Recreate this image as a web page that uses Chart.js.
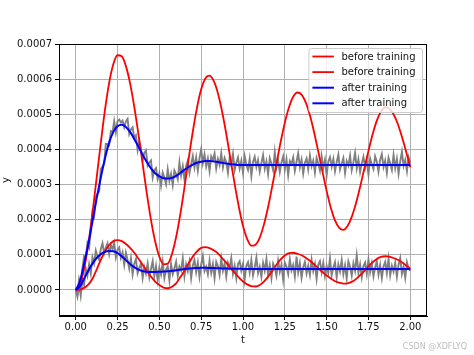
<!DOCTYPE html>
<html><head><meta charset="utf-8">
<script src="https://cdn.jsdelivr.net/npm/chart.js@4/dist/chart.umd.min.js"></script>
<style>
html,body{margin:0;padding:0;background:#fff;}
#wrap{position:relative;width:474px;height:355px;}
#wm{position:absolute;right:7px;bottom:4px;font:8px "DejaVu Sans",sans-serif;color:#bdbdbd;white-space:nowrap;}
</style></head><body>
<div id="wrap"><canvas id="c" width="474" height="355"></canvas><div id="wm">CSDN @XDFLYQ</div></div>
<script>
// ---- data (y values in units of 1e-4) ----
const X_TICKS = [0, 0.25, 0.5, 0.75, 1, 1.25, 1.5, 1.75, 2];
const Y_TICKS = [0, 1, 2, 3, 4, 5, 6, 7];
const LABELS = ['before training', 'before training', 'after training', 'after training'];

const T_CURVE = [0,0.025,0.05,0.075,0.1,0.125,0.15,0.175,0.2,0.225,
0.25,0.275,0.3,0.325,0.35,0.375,0.4,0.425,0.45,0.475,
0.5,0.525,0.55,0.575,0.6,0.625,0.65,0.675,0.7,0.725,
0.75,0.775,0.8,0.825,0.85,0.875,0.9,0.925,0.95,0.975,
1,1.025,1.05,1.075,1.1,1.125,1.15,1.175,1.2,1.225,
1.25,1.275,1.3,1.325,1.35,1.375,1.4,1.425,1.45,1.475,
1.5,1.525,1.55,1.575,1.6,1.625,1.65,1.675,1.7,1.725,
1.75,1.775,1.8,1.825,1.85,1.875,1.9,1.925,1.95,1.975,2];

const RED_UPPER = [0,0.15,0.60,1.30,2.19,3.19,4.19,5.13,5.90,6.43,
6.68,6.65,6.37,5.88,5.21,4.43,3.59,2.75,1.99,1.38,
0.95,0.73,0.75,1.02,1.50,2.15,2.92,3.73,4.51,5.19,
5.71,6.02,6.10,5.95,5.60,5.08,4.44,3.73,3.02,2.37,
1.82,1.45,1.26,1.29,1.49,1.86,2.36,2.96,3.59,4.21,
4.76,5.20,5.50,5.62,5.56,5.34,4.97,4.49,3.94,3.37,
2.82,2.34,1.98,1.77,1.71,1.82,2.08,2.46,2.93,3.45,
3.96,4.43,4.82,5.08,5.20,5.16,5.00,4.73,4.36,3.94,3.49];

const RED_LOWER = [0,0.01,0.06,0.15,0.32,0.58,0.86,1.10,1.28,1.39,
1.42,1.39,1.31,1.20,1.06,0.89,0.72,0.54,0.38,0.24,
0.14,0.07,0.05,0.09,0.19,0.36,0.55,0.76,0.95,1.10,
1.20,1.22,1.19,1.13,1.04,0.91,0.78,0.63,0.49,0.36,
0.24,0.16,0.11,0.10,0.14,0.24,0.38,0.55,0.72,0.87,
0.98,1.05,1.06,1.03,0.99,0.92,0.83,0.73,0.62,0.51,
0.41,0.33,0.25,0.21,0.18,0.19,0.23,0.31,0.42,0.54,
0.67,0.79,0.88,0.94,0.96,0.95,0.91,0.86,0.79,0.70,0.60];

const BLUE_UPPER = [0,0.25,0.75,1.30,1.95,2.60,3.20,3.75,4.20,4.50,
4.66,4.70,4.64,4.50,4.30,4.08,3.85,3.64,3.46,3.32,
3.23,3.18,3.17,3.19,3.25,3.33,3.42,3.50,3.57,3.62,
3.65,3.67,3.67,3.66,3.64,3.62,3.60,3.58,3.57,3.56,
3.56,3.56,3.56,3.56,3.56,3.56,3.56,3.56,3.56,3.56,
3.56,3.56,3.56,3.56,3.56,3.56,3.56,3.56,3.56,3.56,
3.56,3.56,3.56,3.56,3.56,3.56,3.56,3.56,3.56,3.56,
3.56,3.56,3.56,3.56,3.56,3.56,3.56,3.56,3.56,3.56,3.56];

const BLUE_LOWER = [0,0.10,0.32,0.55,0.75,0.91,1.02,1.09,1.11,1.10,
1.05,0.96,0.85,0.74,0.65,0.58,0.54,0.52,0.515,0.515,
0.52,0.525,0.53,0.545,0.56,0.58,0.595,0.61,0.62,0.625,
0.63,0.63,0.628,0.625,0.62,0.615,0.61,0.607,0.605,0.603,
0.60,0.60,0.60,0.60,0.60,0.60,0.60,0.60,0.60,0.60,
0.60,0.60,0.60,0.60,0.60,0.60,0.60,0.60,0.60,0.60,
0.60,0.60,0.60,0.60,0.60,0.60,0.60,0.60,0.60,0.60,
0.60,0.60,0.60,0.60,0.60,0.60,0.60,0.60,0.60,0.60,0.60];

const T_NOISE = [0,0.01,0.02,0.03,0.04,0.05,0.06,0.07,0.08,0.09,
0.1,0.11,0.12,0.13,0.14,0.15,0.16,0.17,0.18,0.19,
0.2,0.21,0.22,0.23,0.24,0.25,0.26,0.27,0.28,0.29,
0.3,0.31,0.32,0.33,0.34,0.35,0.36,0.37,0.38,0.39,
0.4,0.41,0.42,0.43,0.44,0.45,0.46,0.47,0.48,0.49,
0.5,0.51,0.52,0.53,0.54,0.55,0.56,0.57,0.58,0.59,
0.6,0.61,0.62,0.63,0.64,0.65,0.66,0.67,0.68,0.69,
0.7,0.71,0.72,0.73,0.74,0.75,0.76,0.77,0.78,0.79,
0.8,0.81,0.82,0.83,0.84,0.85,0.86,0.87,0.88,0.89,
0.9,0.91,0.92,0.93,0.94,0.95,0.96,0.97,0.98,0.99,
1,1.01,1.02,1.03,1.04,1.05,1.06,1.07,1.08,1.09,
1.1,1.11,1.12,1.13,1.14,1.15,1.16,1.17,1.18,1.19,
1.2,1.21,1.22,1.23,1.24,1.25,1.26,1.27,1.28,1.29,
1.3,1.31,1.32,1.33,1.34,1.35,1.36,1.37,1.38,1.39,
1.4,1.41,1.42,1.43,1.44,1.45,1.46,1.47,1.48,1.49,
1.5,1.51,1.52,1.53,1.54,1.55,1.56,1.57,1.58,1.59,
1.6,1.61,1.62,1.63,1.64,1.65,1.66,1.67,1.68,1.69,
1.7,1.71,1.72,1.73,1.74,1.75,1.76,1.77,1.78,1.79,
1.8,1.81,1.82,1.83,1.84,1.85,1.86,1.87,1.88,1.89,
1.9,1.91,1.92,1.93,1.94,1.95,1.96,1.97,1.98,1.99,2];

const GRAY_UPPER = [0,-0.10,0.30,0.08,0.61,0.96,0.91,1.34,1.21,1.74,
2.22,2.10,2.65,2.74,2.81,3.44,3.51,3.59,4.16,4.15,
4.12,4.52,4.49,4.80,4.49,4.80,4.85,4.77,4.82,4.63,
4.80,4.87,4.44,4.57,4.63,4.33,4.40,3.98,4.24,4.02,
3.68,3.90,3.97,3.54,3.63,3.69,3.20,3.41,3.47,3.15,
3.32,2.97,3.34,3.20,3.01,3.43,3.10,3.30,2.99,3.40,
3.30,3.15,3.63,3.26,3.52,3.15,3.53,3.68,3.33,3.57,
3.81,3.49,3.77,3.40,3.75,4.00,3.61,3.86,3.52,3.74,
3.39,3.80,3.69,3.88,3.46,3.73,3.56,3.89,3.49,3.76,
3.64,3.34,3.76,3.55,3.87,3.41,3.62,3.77,3.46,3.68,
3.34,3.81,3.57,3.42,3.73,3.25,3.64,3.79,3.50,3.70,
3.37,3.61,3.84,3.45,3.66,3.30,3.75,3.59,3.41,3.92,
3.48,3.69,3.36,3.63,3.80,3.43,3.72,3.27,3.67,3.58,
3.77,3.39,3.65,3.89,3.49,3.71,3.32,3.62,3.74,3.44,
3.83,3.52,3.68,3.35,3.76,3.60,3.40,3.81,3.47,3.70,
3.26,3.66,3.78,3.51,3.73,3.38,3.64,3.85,3.43,3.59,
3.75,3.33,3.67,3.54,3.82,3.41,3.63,3.90,3.46,3.72,
3.36,3.61,3.79,3.48,3.69,3.29,3.74,3.57,3.44,3.80,
3.65,3.37,3.71,3.87,3.50,3.68,3.34,3.76,3.60,3.42,
3.84,3.47,3.73,3.31,3.66,3.93,3.53,3.70,3.38,3.78,3.62];

const GRAY_LOWER = [0,-0.19,0.17,-0.16,0.28,0.14,0.61,0.41,0.73,0.47,
0.93,0.76,1.12,0.96,0.86,1.17,1.33,1.04,1.21,1.33,
1.02,1.28,1.16,1.34,0.93,1.14,1.21,0.91,1.07,0.72,
1.06,0.85,0.61,0.90,0.45,0.75,0.88,0.48,0.64,0.74,
0.34,0.65,0.47,0.75,0.36,0.60,0.82,0.39,0.68,0.28,
0.63,0.44,0.80,0.34,0.58,0.67,0.28,0.74,0.45,0.62,
0.80,0.40,0.67,0.56,0.90,0.39,0.73,0.54,0.80,0.34,
0.70,0.85,0.51,0.78,0.38,0.73,0.97,0.54,0.66,0.45,
0.83,0.49,0.74,0.34,0.80,0.68,0.43,0.89,0.55,0.75,
0.38,0.77,0.63,0.90,0.46,0.69,0.34,0.74,0.82,0.55,
0.74,0.29,0.69,0.79,0.50,0.85,0.42,0.64,0.92,0.48,
0.66,0.38,0.77,0.55,0.88,0.44,0.70,0.34,0.75,0.63,
0.41,0.83,0.52,0.72,0.30,0.78,0.67,0.46,0.87,0.56,
0.71,0.39,0.95,0.50,0.76,0.35,0.65,0.80,0.47,0.69,
0.43,0.86,0.54,0.74,0.32,0.72,0.82,0.51,0.77,0.40,
0.68,0.48,0.90,0.42,0.64,0.79,0.36,0.73,0.53,0.85,
0.45,0.70,0.33,0.81,0.66,0.41,0.76,0.55,0.98,0.49,
0.73,0.37,0.68,0.78,0.46,0.87,0.51,0.75,0.39,0.64,
0.82,0.44,0.71,0.34,0.67,0.80,0.48,0.89,0.42,0.69,
0.52,0.77,0.38,0.72,0.91,0.46,0.66,0.35,0.79,0.62,0.55];

// ---- chart ----
const pts = (ts, ys) => ts.map((t, i) => ({x: t, y: ys[i]}));
Chart.defaults.font.family = '"DejaVu Sans", sans-serif';
Chart.defaults.font.size = 10;
Chart.defaults.color = '#111';

const frameAndLegend = {
  id: 'frameAndLegend',
  afterDatasetsDraw(chart) {
    const {ctx, chartArea: a} = chart;
    ctx.save();
    ctx.strokeStyle = '#000';
    ctx.lineWidth = 1;
    ctx.strokeRect(Math.round(a.left) + 0.5, Math.round(a.top) + 0.5,
                   Math.round(a.right - a.left) - 1, Math.round(a.bottom - a.top) - 1);
    ctx.restore();
  },
  afterDraw(chart) {
    const {ctx, chartArea: a} = chart;
    const items = chart.data.datasets.filter(d => d.label);
    ctx.save();
    ctx.font = '10px "DejaVu Sans", sans-serif';
    const textW = Math.max(...items.map(d => ctx.measureText(d.label).width));
    const rowH = 15.6;
    const boxR = a.right - 5, boxT = a.top + 4;
    const boxW = 4 + 21.5 + 7.5 + textW + 6.5;
    const boxL = boxR - boxW;
    const boxH = rowH * items.length + 1.6;
    ctx.beginPath();
    ctx.roundRect(boxL + 0.5, boxT + 0.5, boxW, boxH, 2.5);
    ctx.fillStyle = 'rgba(255,255,255,0.8)';
    ctx.fill();
    ctx.strokeStyle = '#cccccc';
    ctx.lineWidth = 1;
    ctx.stroke();
    items.forEach((d, i) => {
      const cy = boxT + 8.5 + i * rowH;
      ctx.beginPath();
      ctx.strokeStyle = d.borderColor;
      ctx.lineWidth = d.borderWidth;
      ctx.moveTo(boxL + 4, cy);
      ctx.lineTo(boxL + 25.5, cy);
      ctx.stroke();
      ctx.fillStyle = '#111';
      ctx.textBaseline = 'middle';
      ctx.textAlign = 'left';
      ctx.fillText(d.label, boxL + 33, cy + 0.5);
    });
    ctx.restore();
  }
};

new Chart(document.getElementById('c'), {
  type: 'line',
  data: {
    datasets: [
      {data: pts(T_NOISE, GRAY_UPPER), borderColor: '#7f7f7f', borderWidth: 1.9, order: 3},
      {data: pts(T_NOISE, GRAY_LOWER), borderColor: '#7f7f7f', borderWidth: 1.9, order: 3},
      {label: LABELS[0], data: pts(T_CURVE, RED_UPPER), borderColor: '#ff0000', borderWidth: 1.8, order: 2, cubicInterpolationMode: 'monotone'},
      {label: LABELS[1], data: pts(T_CURVE, RED_LOWER), borderColor: '#ff0000', borderWidth: 1.8, order: 2, cubicInterpolationMode: 'monotone'},
      {label: LABELS[2], data: pts(T_CURVE, BLUE_UPPER), borderColor: '#0000ff', borderWidth: 2, order: 1, cubicInterpolationMode: 'monotone'},
      {label: LABELS[3], data: pts(T_CURVE, BLUE_LOWER), borderColor: '#0000ff', borderWidth: 2, order: 1, cubicInterpolationMode: 'monotone'}
    ]
  },
  options: {
    responsive: false,
    animation: false,
    events: [],
    layout: {padding: {left: 0, top: 44, right: 47, bottom: 0}},
    elements: {point: {radius: 0}, line: {tension: 0}},
    plugins: {legend: {display: false}, tooltip: {enabled: false}},
    scales: {
      x: {
        type: 'linear', min: -0.1, max: 2.1,
        afterBuildTicks: s => { s.ticks = X_TICKS.map(v => ({value: v})); },
        afterFit: s => { s.height = 39; },
        ticks: {callback: v => v.toFixed(2), maxRotation: 0, autoSkip: false, padding: 1, color: '#111'},
        grid: {color: '#b0b0b0', lineWidth: 1, tickColor: '#000', tickLength: 4},
        border: {color: '#000', width: 1},
        title: {display: true, text: 't', color: '#111', font: {size: 10}, padding: {top: 0, bottom: 9}}
      },
      y: {
        type: 'linear', min: -0.74, max: 7.0,
        afterBuildTicks: s => { s.ticks = Y_TICKS.map(v => ({value: v})); },
        afterFit: s => { s.width = 59; },
        ticks: {callback: v => (v / 10000).toFixed(4), autoSkip: false, padding: 3, color: '#111'},
        grid: {color: '#b0b0b0', lineWidth: 1, tickColor: '#000', tickLength: 4},
        border: {color: '#000', width: 1},
        title: {display: true, text: 'y', color: '#111', font: {size: 10}, padding: {top: 0, bottom: 0}}
      }
    }
  },
  plugins: [frameAndLegend]
});
</script>
</body></html>
